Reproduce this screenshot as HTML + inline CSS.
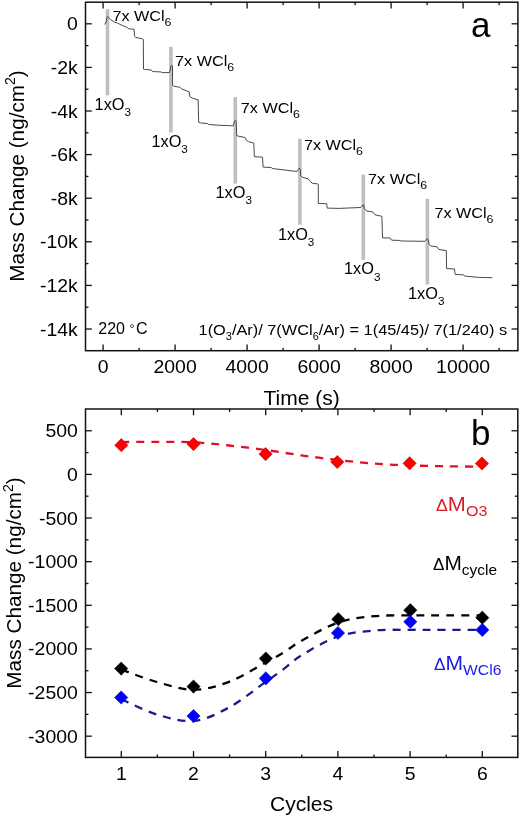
<!DOCTYPE html>
<html><head><meta charset="utf-8"><title>Mass change plots</title>
<style>html,body{margin:0;padding:0;background:#fff;}body{width:520px;height:818px;overflow:hidden;}svg{display:block;font-family:'Liberation Sans', Arial, Helvetica, sans-serif;}</style></head><body>
<svg width="520" height="818" viewBox="0 0 520 818">
<rect x="0" y="0" width="520" height="818" fill="#fff"/>
<rect x="105.70" y="9.20" width="3.6" height="86.10" fill="#bfbfbf"/>
<rect x="169.10" y="46.90" width="3.6" height="85.60" fill="#bfbfbf"/>
<rect x="233.50" y="97.10" width="3.6" height="86.50" fill="#bfbfbf"/>
<rect x="298.10" y="138.70" width="3.6" height="85.90" fill="#bfbfbf"/>
<rect x="361.50" y="174.60" width="3.6" height="85.10" fill="#bfbfbf"/>
<rect x="425.60" y="198.80" width="3.6" height="85.80" fill="#bfbfbf"/>
<polyline points="104.3,24.2 105.5,23.6 106.4,20.5 107.0,17.2 107.7,16.3 108.5,17.4 109.1,18.2 110.6,19.6 114.4,22.0 117.3,23.0 122.1,25.4 126.9,27.3 128.8,28.8 134.1,29.2 134.5,36.4 135.6,37.4 142.3,38.8 143.3,39.4 143.5,69.2 144.4,69.4 151.2,70.0 152.6,71.6 160.8,71.9 162.2,72.6 169.4,72.6 170.2,70.0 171.2,65.5 171.9,65.2 172.5,66.5 172.5,85.0 173.7,86.2 180.0,87.3 181.7,89.0 189.2,91.9 189.8,96.5 192.7,98.3 198.1,99.8 198.7,122.3 200.4,122.9 207.3,123.5 208.5,124.4 217.7,125.2 233.3,125.8 234.4,121.2 235.6,120.2 236.2,121.5 236.7,135.6 238.5,136.2 244.2,137.3 245.2,137.5 246.3,140.2 248.7,141.7 253.8,143.1 254.4,156.7 262.5,157.2 263.1,167.1 271.2,167.5 272.3,168.5 296.9,171.5 298.1,169.8 299.5,168.1 300.3,169.5 300.6,175.6 302.7,177.3 308.5,179.0 309.6,180.8 312.3,183.3 317.7,183.9 318.3,184.4 318.3,203.5 326.7,203.7 327.2,208.1 338.8,208.4 360.8,207.5 362.2,206.0 363.4,204.7 364.6,209.0 366.9,211.0 372.7,211.9 375.0,214.8 381.9,216.3 382.5,237.9 390.0,237.9 391.7,240.2 399.2,240.4 401.0,241.0 425.0,241.3 426.3,240.0 427.3,238.7 428.3,240.0 429.0,244.2 430.8,246.0 437.1,246.8 438.8,249.4 446.3,250.6 446.6,268.5 454.4,269.0 455.2,274.4 463.1,274.8 464.8,276.0 478.5,277.4 492.3,277.7" fill="none" stroke="#4a4a4a" stroke-width="1.0" stroke-linejoin="round"/>
<rect x="85.50" y="2.20" width="432.40" height="348.50" fill="none" stroke="#111" stroke-width="1.5"/>
<line x1="103.10" y1="350.70" x2="103.10" y2="344.40" stroke="#111" stroke-width="1.3"/>
<line x1="103.10" y1="2.20" x2="103.10" y2="8.50" stroke="#111" stroke-width="1.3"/>
<line x1="139.10" y1="350.70" x2="139.10" y2="347.70" stroke="#111" stroke-width="1.3"/>
<line x1="139.10" y1="2.20" x2="139.10" y2="5.20" stroke="#111" stroke-width="1.3"/>
<line x1="175.10" y1="350.70" x2="175.10" y2="344.40" stroke="#111" stroke-width="1.3"/>
<line x1="175.10" y1="2.20" x2="175.10" y2="8.50" stroke="#111" stroke-width="1.3"/>
<line x1="211.10" y1="350.70" x2="211.10" y2="347.70" stroke="#111" stroke-width="1.3"/>
<line x1="211.10" y1="2.20" x2="211.10" y2="5.20" stroke="#111" stroke-width="1.3"/>
<line x1="247.10" y1="350.70" x2="247.10" y2="344.40" stroke="#111" stroke-width="1.3"/>
<line x1="247.10" y1="2.20" x2="247.10" y2="8.50" stroke="#111" stroke-width="1.3"/>
<line x1="283.10" y1="350.70" x2="283.10" y2="347.70" stroke="#111" stroke-width="1.3"/>
<line x1="283.10" y1="2.20" x2="283.10" y2="5.20" stroke="#111" stroke-width="1.3"/>
<line x1="319.10" y1="350.70" x2="319.10" y2="344.40" stroke="#111" stroke-width="1.3"/>
<line x1="319.10" y1="2.20" x2="319.10" y2="8.50" stroke="#111" stroke-width="1.3"/>
<line x1="355.10" y1="350.70" x2="355.10" y2="347.70" stroke="#111" stroke-width="1.3"/>
<line x1="355.10" y1="2.20" x2="355.10" y2="5.20" stroke="#111" stroke-width="1.3"/>
<line x1="391.10" y1="350.70" x2="391.10" y2="344.40" stroke="#111" stroke-width="1.3"/>
<line x1="391.10" y1="2.20" x2="391.10" y2="8.50" stroke="#111" stroke-width="1.3"/>
<line x1="427.10" y1="350.70" x2="427.10" y2="347.70" stroke="#111" stroke-width="1.3"/>
<line x1="427.10" y1="2.20" x2="427.10" y2="5.20" stroke="#111" stroke-width="1.3"/>
<line x1="463.10" y1="350.70" x2="463.10" y2="344.40" stroke="#111" stroke-width="1.3"/>
<line x1="463.10" y1="2.20" x2="463.10" y2="8.50" stroke="#111" stroke-width="1.3"/>
<line x1="499.10" y1="350.70" x2="499.10" y2="347.70" stroke="#111" stroke-width="1.3"/>
<line x1="499.10" y1="2.20" x2="499.10" y2="5.20" stroke="#111" stroke-width="1.3"/>
<line x1="85.50" y1="23.80" x2="91.80" y2="23.80" stroke="#111" stroke-width="1.3"/>
<line x1="517.90" y1="23.80" x2="511.60" y2="23.80" stroke="#111" stroke-width="1.3"/>
<line x1="85.50" y1="45.60" x2="88.50" y2="45.60" stroke="#111" stroke-width="1.3"/>
<line x1="517.90" y1="45.60" x2="514.90" y2="45.60" stroke="#111" stroke-width="1.3"/>
<line x1="85.50" y1="67.40" x2="91.80" y2="67.40" stroke="#111" stroke-width="1.3"/>
<line x1="517.90" y1="67.40" x2="511.60" y2="67.40" stroke="#111" stroke-width="1.3"/>
<line x1="85.50" y1="89.20" x2="88.50" y2="89.20" stroke="#111" stroke-width="1.3"/>
<line x1="517.90" y1="89.20" x2="514.90" y2="89.20" stroke="#111" stroke-width="1.3"/>
<line x1="85.50" y1="111.00" x2="91.80" y2="111.00" stroke="#111" stroke-width="1.3"/>
<line x1="517.90" y1="111.00" x2="511.60" y2="111.00" stroke="#111" stroke-width="1.3"/>
<line x1="85.50" y1="132.80" x2="88.50" y2="132.80" stroke="#111" stroke-width="1.3"/>
<line x1="517.90" y1="132.80" x2="514.90" y2="132.80" stroke="#111" stroke-width="1.3"/>
<line x1="85.50" y1="154.60" x2="91.80" y2="154.60" stroke="#111" stroke-width="1.3"/>
<line x1="517.90" y1="154.60" x2="511.60" y2="154.60" stroke="#111" stroke-width="1.3"/>
<line x1="85.50" y1="176.40" x2="88.50" y2="176.40" stroke="#111" stroke-width="1.3"/>
<line x1="517.90" y1="176.40" x2="514.90" y2="176.40" stroke="#111" stroke-width="1.3"/>
<line x1="85.50" y1="198.20" x2="91.80" y2="198.20" stroke="#111" stroke-width="1.3"/>
<line x1="517.90" y1="198.20" x2="511.60" y2="198.20" stroke="#111" stroke-width="1.3"/>
<line x1="85.50" y1="220.00" x2="88.50" y2="220.00" stroke="#111" stroke-width="1.3"/>
<line x1="517.90" y1="220.00" x2="514.90" y2="220.00" stroke="#111" stroke-width="1.3"/>
<line x1="85.50" y1="241.80" x2="91.80" y2="241.80" stroke="#111" stroke-width="1.3"/>
<line x1="517.90" y1="241.80" x2="511.60" y2="241.80" stroke="#111" stroke-width="1.3"/>
<line x1="85.50" y1="263.60" x2="88.50" y2="263.60" stroke="#111" stroke-width="1.3"/>
<line x1="517.90" y1="263.60" x2="514.90" y2="263.60" stroke="#111" stroke-width="1.3"/>
<line x1="85.50" y1="285.40" x2="91.80" y2="285.40" stroke="#111" stroke-width="1.3"/>
<line x1="517.90" y1="285.40" x2="511.60" y2="285.40" stroke="#111" stroke-width="1.3"/>
<line x1="85.50" y1="307.20" x2="88.50" y2="307.20" stroke="#111" stroke-width="1.3"/>
<line x1="517.90" y1="307.20" x2="514.90" y2="307.20" stroke="#111" stroke-width="1.3"/>
<line x1="85.50" y1="329.00" x2="91.80" y2="329.00" stroke="#111" stroke-width="1.3"/>
<line x1="517.90" y1="329.00" x2="511.60" y2="329.00" stroke="#111" stroke-width="1.3"/>
<text transform="translate(77.80,30.30) scale(1.08,1)" font-size="18" text-anchor="end" fill="#000" >0</text>
<text transform="translate(77.80,73.90) scale(1.08,1)" font-size="18" text-anchor="end" fill="#000" >-2k</text>
<text transform="translate(77.80,117.50) scale(1.08,1)" font-size="18" text-anchor="end" fill="#000" >-4k</text>
<text transform="translate(77.80,161.10) scale(1.08,1)" font-size="18" text-anchor="end" fill="#000" >-6k</text>
<text transform="translate(77.80,204.70) scale(1.08,1)" font-size="18" text-anchor="end" fill="#000" >-8k</text>
<text transform="translate(77.80,248.30) scale(1.08,1)" font-size="18" text-anchor="end" fill="#000" >-10k</text>
<text transform="translate(77.80,291.90) scale(1.08,1)" font-size="18" text-anchor="end" fill="#000" >-12k</text>
<text transform="translate(77.80,335.50) scale(1.08,1)" font-size="18" text-anchor="end" fill="#000" >-14k</text>
<text transform="translate(103.10,373.20) scale(1.08,1)" font-size="18" text-anchor="middle" fill="#000" >0</text>
<text transform="translate(175.10,373.20) scale(1.08,1)" font-size="18" text-anchor="middle" fill="#000" >2000</text>
<text transform="translate(247.10,373.20) scale(1.08,1)" font-size="18" text-anchor="middle" fill="#000" >4000</text>
<text transform="translate(319.10,373.20) scale(1.08,1)" font-size="18" text-anchor="middle" fill="#000" >6000</text>
<text transform="translate(391.10,373.20) scale(1.08,1)" font-size="18" text-anchor="middle" fill="#000" >8000</text>
<text transform="translate(463.10,373.20) scale(1.08,1)" font-size="18" text-anchor="middle" fill="#000" >10000</text>
<text transform="translate(301.60,404.50) scale(1.08,1)" font-size="19.5" text-anchor="middle" fill="#000" >Time (s)</text>
<text transform="translate(23.5,176.0) rotate(-90)" font-size="20.7" text-anchor="middle" fill="#000">Mass Change (ng/cm<tspan font-size="14" dy="-8.5">2</tspan><tspan dy="8.5">)</tspan></text>
<text transform="translate(471.00,37.30) scale(1.0,1)" font-size="35" text-anchor="start" fill="#000" >a</text>
<text transform="translate(112.40,20.60) scale(1.08,1)" font-size="15" text-anchor="start" fill="#000" >7x WCl<tspan font-size="11.5" dy="5">6</tspan></text>
<text transform="translate(175.10,65.60) scale(1.08,1)" font-size="15" text-anchor="start" fill="#000" >7x WCl<tspan font-size="11.5" dy="5">6</tspan></text>
<text transform="translate(240.80,112.70) scale(1.08,1)" font-size="15" text-anchor="start" fill="#000" >7x WCl<tspan font-size="11.5" dy="5">6</tspan></text>
<text transform="translate(303.90,150.20) scale(1.08,1)" font-size="15" text-anchor="start" fill="#000" >7x WCl<tspan font-size="11.5" dy="5">6</tspan></text>
<text transform="translate(368.10,184.20) scale(1.08,1)" font-size="15" text-anchor="start" fill="#000" >7x WCl<tspan font-size="11.5" dy="5">6</tspan></text>
<text transform="translate(434.40,218.20) scale(1.08,1)" font-size="15" text-anchor="start" fill="#000" >7x WCl<tspan font-size="11.5" dy="5">6</tspan></text>
<text transform="translate(94.60,109.80) scale(1.02,1)" font-size="16" text-anchor="start" fill="#000" >1xO<tspan font-size="11.5" dy="6.3">3</tspan></text>
<text transform="translate(151.40,146.50) scale(1.02,1)" font-size="16" text-anchor="start" fill="#000" >1xO<tspan font-size="11.5" dy="6.3">3</tspan></text>
<text transform="translate(215.50,198.00) scale(1.02,1)" font-size="16" text-anchor="start" fill="#000" >1xO<tspan font-size="11.5" dy="6.3">3</tspan></text>
<text transform="translate(277.90,239.60) scale(1.02,1)" font-size="16" text-anchor="start" fill="#000" >1xO<tspan font-size="11.5" dy="6.3">3</tspan></text>
<text transform="translate(344.00,274.20) scale(1.02,1)" font-size="16" text-anchor="start" fill="#000" >1xO<tspan font-size="11.5" dy="6.3">3</tspan></text>
<text transform="translate(408.00,298.50) scale(1.02,1)" font-size="16" text-anchor="start" fill="#000" >1xO<tspan font-size="11.5" dy="6.3">3</tspan></text>
<text transform="translate(98.20,334.20) scale(1.03,1)" font-size="15.6" text-anchor="start" fill="#000" >220 <tspan font-size="12" dy="-0.8">&#176;</tspan><tspan dy="0.8" dx="1.6">C</tspan></text>
<text transform="translate(198.60,335.00) scale(1.09,1)" font-size="15" text-anchor="start" fill="#000" >1(O<tspan font-size="10" dy="4.8">3</tspan><tspan dy="-4.8">/Ar)/ 7(WCl</tspan><tspan font-size="10" dy="4.8">6</tspan><tspan dy="-4.8">/Ar) = 1(45/45)/ 7(1/240) s</tspan></text>
<rect x="85.50" y="409.00" width="432.30" height="348.40" fill="none" stroke="#111" stroke-width="1.5"/>
<line x1="121.30" y1="757.40" x2="121.30" y2="751.10" stroke="#111" stroke-width="1.3"/>
<line x1="121.30" y1="409.00" x2="121.30" y2="415.30" stroke="#111" stroke-width="1.3"/>
<line x1="157.40" y1="757.40" x2="157.40" y2="754.40" stroke="#111" stroke-width="1.3"/>
<line x1="157.40" y1="409.00" x2="157.40" y2="412.00" stroke="#111" stroke-width="1.3"/>
<line x1="193.50" y1="757.40" x2="193.50" y2="751.10" stroke="#111" stroke-width="1.3"/>
<line x1="193.50" y1="409.00" x2="193.50" y2="415.30" stroke="#111" stroke-width="1.3"/>
<line x1="229.60" y1="757.40" x2="229.60" y2="754.40" stroke="#111" stroke-width="1.3"/>
<line x1="229.60" y1="409.00" x2="229.60" y2="412.00" stroke="#111" stroke-width="1.3"/>
<line x1="265.70" y1="757.40" x2="265.70" y2="751.10" stroke="#111" stroke-width="1.3"/>
<line x1="265.70" y1="409.00" x2="265.70" y2="415.30" stroke="#111" stroke-width="1.3"/>
<line x1="301.80" y1="757.40" x2="301.80" y2="754.40" stroke="#111" stroke-width="1.3"/>
<line x1="301.80" y1="409.00" x2="301.80" y2="412.00" stroke="#111" stroke-width="1.3"/>
<line x1="337.90" y1="757.40" x2="337.90" y2="751.10" stroke="#111" stroke-width="1.3"/>
<line x1="337.90" y1="409.00" x2="337.90" y2="415.30" stroke="#111" stroke-width="1.3"/>
<line x1="374.00" y1="757.40" x2="374.00" y2="754.40" stroke="#111" stroke-width="1.3"/>
<line x1="374.00" y1="409.00" x2="374.00" y2="412.00" stroke="#111" stroke-width="1.3"/>
<line x1="410.10" y1="757.40" x2="410.10" y2="751.10" stroke="#111" stroke-width="1.3"/>
<line x1="410.10" y1="409.00" x2="410.10" y2="415.30" stroke="#111" stroke-width="1.3"/>
<line x1="446.20" y1="757.40" x2="446.20" y2="754.40" stroke="#111" stroke-width="1.3"/>
<line x1="446.20" y1="409.00" x2="446.20" y2="412.00" stroke="#111" stroke-width="1.3"/>
<line x1="482.30" y1="757.40" x2="482.30" y2="751.10" stroke="#111" stroke-width="1.3"/>
<line x1="482.30" y1="409.00" x2="482.30" y2="415.30" stroke="#111" stroke-width="1.3"/>
<line x1="85.50" y1="430.77" x2="91.80" y2="430.77" stroke="#111" stroke-width="1.3"/>
<line x1="517.80" y1="430.77" x2="511.50" y2="430.77" stroke="#111" stroke-width="1.3"/>
<line x1="85.50" y1="452.58" x2="88.50" y2="452.58" stroke="#111" stroke-width="1.3"/>
<line x1="517.80" y1="452.58" x2="514.80" y2="452.58" stroke="#111" stroke-width="1.3"/>
<line x1="85.50" y1="474.40" x2="91.80" y2="474.40" stroke="#111" stroke-width="1.3"/>
<line x1="517.80" y1="474.40" x2="511.50" y2="474.40" stroke="#111" stroke-width="1.3"/>
<line x1="85.50" y1="496.21" x2="88.50" y2="496.21" stroke="#111" stroke-width="1.3"/>
<line x1="517.80" y1="496.21" x2="514.80" y2="496.21" stroke="#111" stroke-width="1.3"/>
<line x1="85.50" y1="518.03" x2="91.80" y2="518.03" stroke="#111" stroke-width="1.3"/>
<line x1="517.80" y1="518.03" x2="511.50" y2="518.03" stroke="#111" stroke-width="1.3"/>
<line x1="85.50" y1="539.85" x2="88.50" y2="539.85" stroke="#111" stroke-width="1.3"/>
<line x1="517.80" y1="539.85" x2="514.80" y2="539.85" stroke="#111" stroke-width="1.3"/>
<line x1="85.50" y1="561.66" x2="91.80" y2="561.66" stroke="#111" stroke-width="1.3"/>
<line x1="517.80" y1="561.66" x2="511.50" y2="561.66" stroke="#111" stroke-width="1.3"/>
<line x1="85.50" y1="583.48" x2="88.50" y2="583.48" stroke="#111" stroke-width="1.3"/>
<line x1="517.80" y1="583.48" x2="514.80" y2="583.48" stroke="#111" stroke-width="1.3"/>
<line x1="85.50" y1="605.29" x2="91.80" y2="605.29" stroke="#111" stroke-width="1.3"/>
<line x1="517.80" y1="605.29" x2="511.50" y2="605.29" stroke="#111" stroke-width="1.3"/>
<line x1="85.50" y1="627.11" x2="88.50" y2="627.11" stroke="#111" stroke-width="1.3"/>
<line x1="517.80" y1="627.11" x2="514.80" y2="627.11" stroke="#111" stroke-width="1.3"/>
<line x1="85.50" y1="648.92" x2="91.80" y2="648.92" stroke="#111" stroke-width="1.3"/>
<line x1="517.80" y1="648.92" x2="511.50" y2="648.92" stroke="#111" stroke-width="1.3"/>
<line x1="85.50" y1="670.74" x2="88.50" y2="670.74" stroke="#111" stroke-width="1.3"/>
<line x1="517.80" y1="670.74" x2="514.80" y2="670.74" stroke="#111" stroke-width="1.3"/>
<line x1="85.50" y1="692.55" x2="91.80" y2="692.55" stroke="#111" stroke-width="1.3"/>
<line x1="517.80" y1="692.55" x2="511.50" y2="692.55" stroke="#111" stroke-width="1.3"/>
<line x1="85.50" y1="714.37" x2="88.50" y2="714.37" stroke="#111" stroke-width="1.3"/>
<line x1="517.80" y1="714.37" x2="514.80" y2="714.37" stroke="#111" stroke-width="1.3"/>
<line x1="85.50" y1="736.18" x2="91.80" y2="736.18" stroke="#111" stroke-width="1.3"/>
<line x1="517.80" y1="736.18" x2="511.50" y2="736.18" stroke="#111" stroke-width="1.3"/>
<text transform="translate(77.80,437.27) scale(1.08,1)" font-size="18" text-anchor="end" fill="#000" >500</text>
<text transform="translate(77.80,480.90) scale(1.08,1)" font-size="18" text-anchor="end" fill="#000" >0</text>
<text transform="translate(77.80,524.53) scale(1.08,1)" font-size="18" text-anchor="end" fill="#000" >-500</text>
<text transform="translate(77.80,568.16) scale(1.08,1)" font-size="18" text-anchor="end" fill="#000" >-1000</text>
<text transform="translate(77.80,611.79) scale(1.08,1)" font-size="18" text-anchor="end" fill="#000" >-1500</text>
<text transform="translate(77.80,655.42) scale(1.08,1)" font-size="18" text-anchor="end" fill="#000" >-2000</text>
<text transform="translate(77.80,699.05) scale(1.08,1)" font-size="18" text-anchor="end" fill="#000" >-2500</text>
<text transform="translate(77.80,742.68) scale(1.08,1)" font-size="18" text-anchor="end" fill="#000" >-3000</text>
<text transform="translate(121.30,779.60) scale(1.08,1)" font-size="18" text-anchor="middle" fill="#000" >1</text>
<text transform="translate(193.50,779.60) scale(1.08,1)" font-size="18" text-anchor="middle" fill="#000" >2</text>
<text transform="translate(265.70,779.60) scale(1.08,1)" font-size="18" text-anchor="middle" fill="#000" >3</text>
<text transform="translate(337.90,779.60) scale(1.08,1)" font-size="18" text-anchor="middle" fill="#000" >4</text>
<text transform="translate(410.10,779.60) scale(1.08,1)" font-size="18" text-anchor="middle" fill="#000" >5</text>
<text transform="translate(482.30,779.60) scale(1.08,1)" font-size="18" text-anchor="middle" fill="#000" >6</text>
<text transform="translate(301.50,811.00) scale(1.08,1)" font-size="19.5" text-anchor="middle" fill="#000" >Cycles</text>
<text transform="translate(21.2,583.0) rotate(-90)" font-size="20.7" text-anchor="middle" fill="#000">Mass Change (ng/cm<tspan font-size="14" dy="-8.5">2</tspan><tspan dy="8.5">)</tspan></text>
<text transform="translate(471.00,444.60) scale(1.0,1)" font-size="35" text-anchor="start" fill="#000" >b</text>
<path d="M121.30,442.10 C127.25,442.05 144.97,441.77 157.00,441.80 C169.03,441.83 181.50,441.68 193.50,442.30 C205.50,442.92 217.00,444.22 229.00,445.50 C241.00,446.78 253.50,448.37 265.50,450.00 C277.50,451.63 289.03,453.63 301.00,455.30 C312.97,456.97 325.30,458.63 337.30,460.00 C349.30,461.37 360.95,462.60 373.00,463.50 C385.05,464.40 397.43,464.93 409.60,465.40 C421.77,465.87 433.88,466.10 446.00,466.30 C458.12,466.50 476.25,466.55 482.30,466.60" fill="none" stroke="#e0102a" stroke-width="2.3" stroke-dasharray="8 7"/>
<path d="M121.30,669.60 C127.25,671.67 144.97,678.63 157.00,682.00 C169.03,685.37 181.50,689.83 193.50,689.80 C205.50,689.77 216.95,686.35 229.00,681.80 C241.05,677.25 256.63,667.42 265.80,662.50 C274.97,657.58 277.97,655.97 284.00,652.30 C290.03,648.63 292.95,645.47 302.00,640.50 C311.05,635.53 326.30,626.55 338.30,622.50 C350.30,618.45 362.00,617.38 374.00,616.20 C386.00,615.02 398.30,615.53 410.30,615.40 C422.30,615.27 432.88,615.40 446.00,615.40 C459.12,615.40 481.83,615.40 489.00,615.40" fill="none" stroke="#000" stroke-width="2.3" stroke-dasharray="8 7"/>
<path d="M121.30,699.30 C127.25,701.83 144.97,710.90 157.00,714.50 C169.03,718.10 181.50,722.07 193.50,720.90 C205.50,719.73 216.95,714.02 229.00,707.50 C241.05,700.98 256.63,688.25 265.80,681.80 C274.97,675.35 277.97,673.27 284.00,668.80 C290.03,664.33 293.00,660.38 302.00,655.00 C311.00,649.62 326.00,640.58 338.00,636.50 C350.00,632.42 361.95,631.62 374.00,630.50 C386.05,629.38 398.30,629.90 410.30,629.80 C422.30,629.70 433.22,629.87 446.00,629.90 C458.78,629.93 480.17,629.98 487.00,630.00" fill="none" stroke="#1a1a8c" stroke-width="2.3" stroke-dasharray="8 7"/>
<polygon points="121.30,438.60 127.90,445.20 121.30,451.80 114.70,445.20" fill="#ff0000" stroke="#b00000" stroke-width="0.6"/>
<polygon points="193.50,437.50 200.10,444.10 193.50,450.70 186.90,444.10" fill="#ff0000" stroke="#b00000" stroke-width="0.6"/>
<polygon points="265.60,447.50 272.20,454.10 265.60,460.70 259.00,454.10" fill="#ff0000" stroke="#b00000" stroke-width="0.6"/>
<polygon points="337.30,455.40 343.90,462.00 337.30,468.60 330.70,462.00" fill="#ff0000" stroke="#b00000" stroke-width="0.6"/>
<polygon points="409.60,456.70 416.20,463.30 409.60,469.90 403.00,463.30" fill="#ff0000" stroke="#b00000" stroke-width="0.6"/>
<polygon points="481.90,456.90 488.50,463.50 481.90,470.10 475.30,463.50" fill="#ff0000" stroke="#b00000" stroke-width="0.6"/>
<polygon points="121.20,662.00 127.80,668.60 121.20,675.20 114.60,668.60" fill="#000" stroke="#000" stroke-width="0.6"/>
<polygon points="193.50,680.00 200.10,686.60 193.50,693.20 186.90,686.60" fill="#000" stroke="#000" stroke-width="0.6"/>
<polygon points="265.80,651.90 272.40,658.50 265.80,665.10 259.20,658.50" fill="#000" stroke="#000" stroke-width="0.6"/>
<polygon points="338.30,612.60 344.90,619.20 338.30,625.80 331.70,619.20" fill="#000" stroke="#000" stroke-width="0.6"/>
<polygon points="410.30,603.60 416.90,610.20 410.30,616.80 403.70,610.20" fill="#000" stroke="#000" stroke-width="0.6"/>
<polygon points="482.30,611.10 488.90,617.70 482.30,624.30 475.70,617.70" fill="#000" stroke="#000" stroke-width="0.6"/>
<polygon points="121.20,690.90 127.80,697.50 121.20,704.10 114.60,697.50" fill="#0000ff" stroke="#0000b0" stroke-width="0.6"/>
<polygon points="193.50,709.50 200.10,716.10 193.50,722.70 186.90,716.10" fill="#0000ff" stroke="#0000b0" stroke-width="0.6"/>
<polygon points="265.80,671.80 272.40,678.40 265.80,685.00 259.20,678.40" fill="#0000ff" stroke="#0000b0" stroke-width="0.6"/>
<polygon points="338.00,626.40 344.60,633.00 338.00,639.60 331.40,633.00" fill="#0000ff" stroke="#0000b0" stroke-width="0.6"/>
<polygon points="410.30,615.20 416.90,621.80 410.30,628.40 403.70,621.80" fill="#0000ff" stroke="#0000b0" stroke-width="0.6"/>
<polygon points="482.30,623.30 488.90,629.90 482.30,636.50 475.70,629.90" fill="#0000ff" stroke="#0000b0" stroke-width="0.6"/>
<text transform="translate(436.00,510.60) scale(1.11,1)" font-size="19.5" text-anchor="start" fill="#dc1c26" ><tspan font-size="16">&#916;</tspan>M<tspan font-size="14.5" dy="5">O3</tspan></text>
<text transform="translate(433.00,569.50) scale(1.07,1)" font-size="19.5" text-anchor="start" fill="#000" ><tspan font-size="16">&#916;</tspan>M<tspan font-size="14.5" dy="5">cycle</tspan></text>
<text transform="translate(434.00,669.80) scale(1.08,1)" font-size="19.5" text-anchor="start" fill="#1a1ae6" ><tspan font-size="16">&#916;</tspan>M<tspan font-size="14.5" dy="5">WCl6</tspan></text>
</svg>
</body></html>
